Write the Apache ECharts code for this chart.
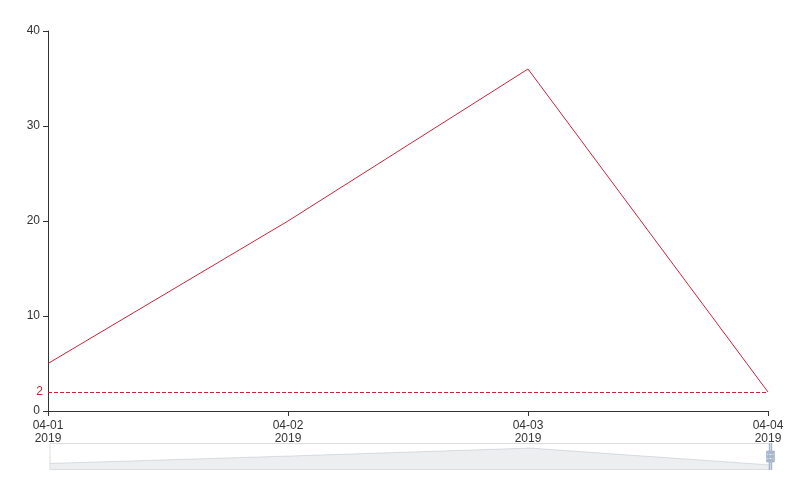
<!DOCTYPE html>
<html><head><meta charset="utf-8">
<script src="https://cdn.jsdelivr.net/npm/echarts@6/dist/echarts.min.js"></script>
<style>html,body{margin:0;padding:0;background:#fff}#c{width:802px;height:488px}</style>
</head><body><div id="c"></div>
<script>
const dates = ['2019-04-01', '2019-04-02', '2019-04-03', '2019-04-04'];
const values = [5, 20, 36, 2];
const markValue = 2;
const yTicks = [0, 10, 20, 30, 40];

const seriesData = dates.map((d, i) => [d, values[i]]);
const DAY = 24 * 3600 * 1000;
const chart = echarts.init(document.getElementById('c'));
chart.setOption({
  animation: false,
  grid: { left: 48, right: 34, top: 31, bottom: 77 },
  xAxis: [{
    type: 'time',
    min: dates[0], max: dates[dates.length - 1],
    splitLine: { show: false },
    splitNumber: 3,
    minInterval: DAY, maxInterval: DAY,
    axisLine: { lineStyle: { color: '#333' } },
    axisTick: { lineStyle: { color: '#333' } },
    axisLabel: {
      color: '#333', fontSize: 12, lineHeight: 13,
      formatter: '{MM}-{dd}\n{yyyy}',
      showMinLabel: true, showMaxLabel: true, hideOverlap: false
    }
  }, {
    type: 'time', show: false,
    min: dates[0], max: dates[dates.length - 1]
  }],
  yAxis: {
    type: 'value', min: yTicks[0], max: yTicks[yTicks.length - 1], interval: 10,
    splitLine: { show: false },
    axisLine: { show: true, lineStyle: { color: '#333' } },
    axisTick: { show: true, lineStyle: { color: '#333' } },
    axisLabel: { color: '#333', fontSize: 12 }
  },
  dataZoom: [{
    type: 'slider', xAxisIndex: 1, left: 47, right: 34, top: 443, height: 27,
    start: 100, end: 100,
    showDetail: false, brushSelect: false,
    backgroundColor: 'rgba(47,69,84,0)',
    borderColor: '#ddd',
    fillerColor: 'rgba(167,183,204,0.4)',
    dataBackground: {
      lineStyle: { color: '#2f4554', width: 0.5, opacity: 0.3 },
      areaStyle: { color: 'rgba(47,69,84,0.3)', opacity: 0.3 }
    },
    selectedDataBackground: {
      lineStyle: { color: '#2f4554', width: 0.5, opacity: 0.3 },
      areaStyle: { color: 'rgba(47,69,84,0.3)', opacity: 0.3 }
    },
    handleIcon: 'path://M8.2,13.6V3.9H6.3v9.7H3.1v14.9h3.3v9.7h1.8v-9.7h3.3V13.6H8.2z M9.7,24.4H4.8v-1.4h4.9V24.4z M9.7,19.1H4.8v-1.4h4.9V19.1z',
    handleSize: '100%',
    handleStyle: { color: '#a7b7cc', borderColor: '#a7b7cc', borderWidth: 0 },
    moveHandleSize: 0
  }],
  series: [{
    type: 'line',
    data: seriesData,
    showSymbol: false, symbol: 'none',
    lineStyle: { color: '#c8253a', width: 1 },
    itemStyle: { color: '#c8253a' },
    markLine: {
      silent: true, symbol: 'none',
      lineStyle: { color: '#c8253a', type: 'dashed', width: 1 },
      label: { position: 'start', color: '#c8253a', fontSize: 12 },
      data: [{ yAxis: markValue }]
    }
  }, {
    type: 'line', xAxisIndex: 1, silent: true,
    data: seriesData,
    showSymbol: false, symbol: 'none',
    lineStyle: { opacity: 0 }
  }]
});
</script></body></html>
